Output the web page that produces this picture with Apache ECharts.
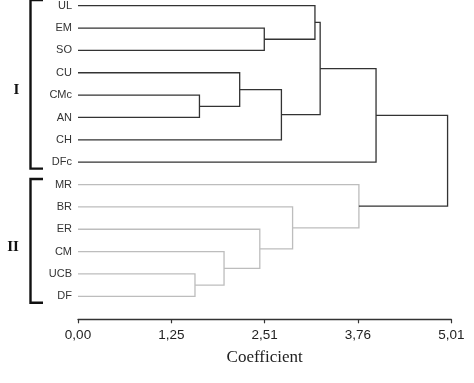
<!DOCTYPE html>
<html>
<head>
<meta charset="utf-8">
<script src="https://cdn.jsdelivr.net/npm/echarts@6/dist/echarts.min.js"></script>
<style>
html,body{margin:0;padding:0;background:#fff;}
#c{width:474px;height:383px;}
</style>
</head>
<body>
<div id="c"></div>
<script>
// Leaves, top to bottom
const leaves = ['UL','EM','SO','CU','CMc','AN','CH','DFc','MR','BR','ER','CM','UCB','DF'];
// Linkage: node ids 0..13 are leaves, merge k creates node 14+k
const mergeA = [12, 4, 11, 3, 10, 1, 17, 9, 0, 22, 8, 23, 25];
const mergeB = [13, 5, 14, 15, 16, 2, 6, 18, 19, 20, 21, 7, 24];
const mergeHeight = [1.57, 1.63, 1.96, 2.17, 2.44, 2.50, 2.73, 2.88, 3.18, 3.25, 3.77, 4.00, 4.96];
const mergeGroup = ['II','I','II','I','II','I','I','II','I','I','II','I','root'];
// Axis
const axisMax = 5.01;
const tickLabels = ['0,00','1,25','2,51','3,76','5,01'];
// Group brackets
const groupNames = ['I','II'];
const groupFrom = [0, 8];
const groupTo = [7, 13];

const colorOf = { 'I': '#333333', 'II': '#bdbdbd', 'root': '#333333' };

const nodeX = [], nodeY = [];
leaves.forEach((l, i) => { nodeX.push(0); nodeY.push(i); });
const linesData = [];
for (let k = 0; k < mergeA.length; k++) {
  const a = mergeA[k], b = mergeB[k], h = mergeHeight[k];
  linesData.push({
    coords: [[nodeX[a], nodeY[a]], [h, nodeY[a]], [h, nodeY[b]], [nodeX[b], nodeY[b]]],
    lineStyle: { color: colorOf[mergeGroup[k]] }
  });
  nodeX.push(h);
  nodeY.push((nodeY[a] + nodeY[b]) / 2);
}

const interval = axisMax / (tickLabels.length - 1);
const chart = echarts.init(document.getElementById('c'), null, { renderer: 'canvas' });
const option = {
  animation: false,
  backgroundColor: '#fff',
  grid: { left: 78, right: 22.7, top: 5.7, bottom: 86.7, containLabel: false },
  xAxis: {
    type: 'value', min: 0, max: axisMax, interval: interval,
    position: 'bottom', offset: 23,
    name: 'Coefficient', nameLocation: 'middle', nameGap: 30,
    nameTextStyle: { fontFamily: 'Liberation Serif', fontSize: 17, color: '#222' },
    axisLine: { show: true, onZero: false, lineStyle: { color: '#333', width: 1.3 } },
    axisTick: { show: true, length: 4, lineStyle: { color: '#333', width: 1.2 } },
    splitLine: { show: false },
    axisLabel: {
      margin: 9, fontFamily: 'Liberation Sans', fontSize: 13.5, color: '#222',
      showMaxLabel: true, showMinLabel: true,
      formatter: v => tickLabels[Math.round(v / interval)]
    }
  },
  yAxis: {
    type: 'value', min: 0, max: leaves.length - 1, interval: 1, inverse: true,
    axisLine: { show: false }, axisTick: { show: false }, splitLine: { show: false },
    axisLabel: {
      margin: 6, fontFamily: 'Liberation Sans', fontSize: 11, color: '#333',
      formatter: v => leaves[Math.round(v)]
    }
  },
  series: [{
    type: 'lines', coordinateSystem: 'cartesian2d', polyline: true, silent: true,
    lineStyle: { width: 1.3, opacity: 1 },
    data: linesData
  }]
};
chart.setOption(option);

// Brackets and group labels, positioned from leaf rows
const graphics = [];
for (let g = 0; g < groupNames.length; g++) {
  const yTop = chart.convertToPixel({ gridIndex: 0 }, [0, groupFrom[g] - 0.25])[1];
  const yBot = chart.convertToPixel({ gridIndex: 0 }, [0, groupTo[g] + 0.29])[1];
  const bx = 30.5, armX = 43;
  graphics.push({
    type: 'polyline', silent: true,
    shape: { points: [[armX, yTop], [bx, yTop], [bx, yBot], [armX, yBot]] },
    style: { stroke: '#111', lineWidth: 2.4, fill: null }
  });
  graphics.push({
    type: 'text', silent: true,
    x: g === 0 ? 16.5 : 13, y: (yTop + yBot) / 2 + 6,
    style: {
      text: groupNames[g], fontFamily: 'Liberation Serif', fontWeight: 'bold', fontSize: 15,
      fill: '#111', align: 'center', verticalAlign: 'middle'
    }
  });
}
chart.setOption({ graphic: graphics });
</script>
</body>
</html>
